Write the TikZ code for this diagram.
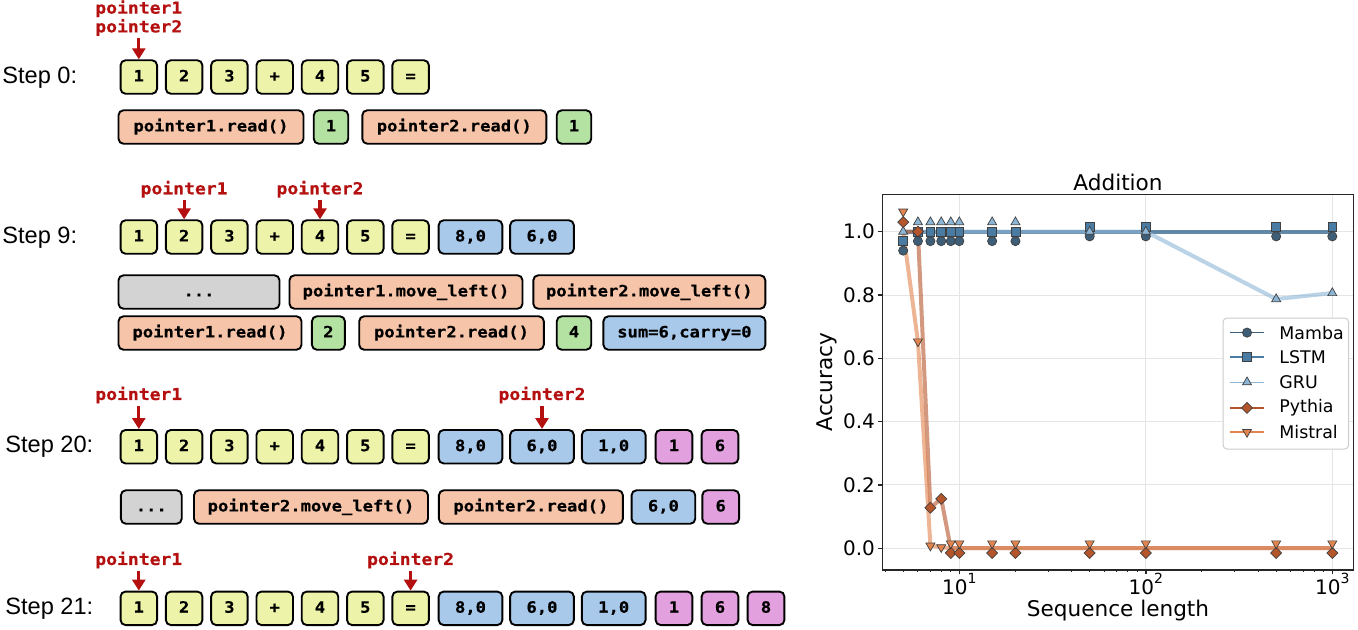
\documentclass[tikz,border=0pt]{standalone}
\usepackage{fontspec}
\setmainfont{Liberation Sans}
\newfontfamily\plotfont{DejaVu Sans}
\newfontfamily\codefont[FakeStretch=1.1, BoldFeatures={FakeBold=0.5}]{DejaVu Sans Mono}
\usepackage{xcolor}
\usepackage{tikz}
\usetikzlibrary{arrows.meta,plotmarks}

\definecolor{tokyellow}{HTML}{EDF4A9}
\definecolor{oppeach}{HTML}{F6C4A8}
\definecolor{tokgreen}{HTML}{B4E2A2}
\definecolor{tokblue}{HTML}{A8C9EA}
\definecolor{tokpink}{HTML}{E2A0DF}
\definecolor{tokgray}{HTML}{D3D3D3}
\definecolor{ptrred}{HTML}{B3100F}
\definecolor{mambac}{HTML}{3E5E78}
\definecolor{lstmc}{HTML}{4A7BA3}
\definecolor{gruc}{HTML}{8CB5D5}
\definecolor{pythiac}{HTML}{B5552B}
\definecolor{mistralc}{HTML}{E2844F}

\tikzset{
  tok/.style={draw, line width=0.95pt, rounded corners=2.5pt, inner sep=0pt,
    minimum height=16.75pt, text height=6pt, text depth=1.6pt,
    font=\codefont\bfseries\fontsize{7.8}{9}\selectfont},
  yel/.style={tok, fill=tokyellow, minimum width=18.25pt},
  blu/.style={tok, fill=tokblue, minimum width=31.85pt},
  pnk/.style={tok, fill=tokpink, minimum width=18.4pt},
  grn/.style={tok, fill=tokgreen, minimum width=17.25pt},
  opbox/.style={tok, fill=oppeach},
  gry/.style={tok, fill=tokgray},
  ptr/.style={text=ptrred, inner sep=1pt, align=center,
    font=\codefont\bfseries\fontsize{8.2}{7.6}\selectfont},
  ptrarrow/.style={draw=ptrred, line width=1.6pt, -{Triangle[length=5.5pt,width=6.5pt]}},
  steplabel/.style={anchor=west, inner sep=0pt, font=\fontsize{11.8}{13}\selectfont},
  plotlab/.style={inner sep=0pt, font=\plotfont\fontsize{10.8}{12}\selectfont},
  ticklab/.style={inner sep=0pt, font=\plotfont\fontsize{10}{12}\selectfont},
  legtext/.style={anchor=west, inner sep=0pt, font=\plotfont\fontsize{8.7}{10}\selectfont},
  gridline/.style={draw=black!10, line width=0.4pt},
  axisline/.style={draw=black!85, line width=0.7pt},
  dataline/.style={line width=2pt, draw opacity=0.6, line join=round},
  legline/.style={line width=0.7pt},
  legframe/.style={draw=black!20, fill=white, line width=0.5pt, rounded corners=2pt},
  mambamk/.style={mark=*, mark size=2.3pt, mark options={fill=mambac, draw=black!75, line width=0.35pt}},
  lstmmk/.style={mark=square*, mark size=2.2pt, mark options={fill=lstmc, draw=black!75, line width=0.35pt}},
  grumk/.style={mark=triangle*, mark size=2.6pt, mark options={fill=gruc, draw=black!75, line width=0.35pt}},
  pythiamk/.style={mark=square*, mark size=1.95pt, mark options={rotate=45, fill=pythiac, draw=black!75, line width=0.35pt}},
  mistralmk/.style={mark=triangle*, mark size=2.6pt, mark options={rotate=180, fill=mistralc, draw=black!75, line width=0.35pt}}
}

\begin{document}
\begin{tikzpicture}[x=0.5pt,y=-0.5pt]
\useasboundingbox (0,0) rectangle (1358,629);

\node[steplabel] (step0) at (2,78) {Step 0:};
\node[steplabel] (step9) at (2,238) {Step 9:};
\node[steplabel] (step20) at (5,447) {Step 20:};
\node[steplabel] (step21) at (5,608.3) {Step 21:};

\foreach \s/\y in {0/77,9/237,20/446.7,21/608.3}
  \foreach \t [count=\i from 0] in {1,2,3,+,4,5,=}
    \node[yel] (s\s-\i) at ({138.8+45.3*\i},\y) {\t};

% step 0
\node[ptr] (p0) at (138.8,18) {pointer1\\pointer2};
\draw[ptrarrow] (p0.south) -- (s0-0.north);
\node[opbox, minimum width=92.5pt] (rd0a) at (211,127) {pointer1.read()};
\node[grn] (v0a) at (331,127) {1};
\node[opbox, minimum width=92pt] (rd0b) at (454.3,127) {pointer2.read()};
\node[grn] (v0b) at (574,127) {1};

% step 9
\node[blu] (s9b1) at (470.5,237) {8,0};
\node[blu] (s9b2) at (542,237) {6,0};
\node[ptr] (p9a) at (184.1,189.3) {pointer1};
\node[ptr] (p9b) at (320,189.3) {pointer2};
\draw[ptrarrow] (p9a.south) -- (s9-1.north);
\draw[ptrarrow] (p9b.south) -- (s9-4.north);
\node[gry, minimum width=80.5pt] (dots9) at (199,292) {...};
\node[opbox, minimum width=116.5pt] (mv9a) at (406,292) {pointer1.move\_left()};
\node[opbox, minimum width=116pt] (mv9b) at (649.3,292) {pointer2.move\_left()};
\node[opbox, minimum width=91.5pt] (rd9a) at (210,333) {pointer1.read()};
\node[grn, minimum width=16.5pt] (v9a) at (328.4,333) {2};
\node[opbox, minimum width=92.3pt] (rd9b) at (451.5,333) {pointer2.read()};
\node[grn] (v9b) at (574,333) {4};
\node[blu, minimum width=81pt] (sum9) at (684.4,333) {sum=6,carry=0};

% step 20
\node[blu] (s20b1) at (470.5,446.7) {8,0};
\node[blu] (s20b2) at (542,446.7) {6,0};
\node[blu] (s20b3) at (613.7,446.7) {1,0};
\node[pnk] (s20c1) at (674,446.7) {1};
\node[pnk] (s20c2) at (720,446.7) {6};
\node[ptr] (p20a) at (138.8,395) {pointer1};
\node[ptr] (p20b) at (542,395) {pointer2};
\draw[ptrarrow] (p20a.south) -- (s20-0.north);
\draw[ptrarrow] (p20b.south) -- (s20b2.north);
\node[gry, minimum width=30.4pt] (dots20) at (151.3,507) {...};
\node[opbox, minimum width=117pt] (mv20) at (311,507) {pointer2.move\_left()};
\node[opbox, minimum width=92pt] (rd20) at (530.9,507) {pointer2.read()};
\node[blu] (v20a) at (663.4,507) {6,0};
\node[pnk] (v20b) at (720.7,507) {6};

% step 21
\node[blu] (s21b1) at (470.5,608.3) {8,0};
\node[blu] (s21b2) at (542,608.3) {6,0};
\node[blu] (s21b3) at (613.7,608.3) {1,0};
\node[pnk] (s21c1) at (674,608.3) {1};
\node[pnk] (s21c2) at (720,608.3) {6};
\node[pnk] (s21c3) at (766,608.3) {8};
\node[ptr] (p21a) at (138.8,560) {pointer1};
\node[ptr] (p21b) at (410.6,560) {pointer2};
\draw[ptrarrow] (p21a.south) -- (s21-0.north);
\draw[ptrarrow] (p21b.south) -- (s21-6.north);

% plot
\node[plotlab, anchor=base] (title) at (1118,190) {Addition};
\node[plotlab, rotate=90] (ylab) at (826.5,382) {Accuracy};
\node[plotlab] (xlab) at (1118,611) {Sequence length};

\begin{scope}[shift={(772.8,548.2)}, x=93.25pt, y=158.3pt]
\foreach \v in {0,0.2,0.4,0.6,0.8,1}
  \draw[gridline] (0.5871,\v) -- (3.1147,\v);
\foreach \d in {1,2,3}
  \draw[gridline] (\d,-0.0689) -- (\d,1.1178);

\draw[dataline, draw=mambac] (0.69897,1) -- (3,1);
\draw[dataline, draw=lstmc] (0.69897,1) -- (3,1);
\draw[dataline, draw=gruc] plot coordinates {(0.69897,1) (2,1) (2.69897,0.787) (3,0.806)};
\draw[dataline, draw=pythiac] plot coordinates {(0.69897,1) (0.77815,1) (0.84510,0.128) (0.90309,0.156) (0.95424,0) (3,0)};
\draw[dataline, draw=mistralc] plot coordinates {(0.69897,1) (0.77815,0.653) (0.84510,0.008) (0.90309,0.003) (0.95424,0) (3,0)};

\draw plot[only marks, mambamk] coordinates {(0.69897,0.94) (0.77815,0.97) (0.84510,0.97) (0.90309,0.97) (0.95424,0.97) (1,0.97) (1.17609,0.97) (1.30103,0.97) (1.69897,0.985) (2,0.985) (2.69897,0.985) (3,0.985)};
\draw plot[only marks, lstmmk] coordinates {(0.69897,0.97) (0.77815,1) (0.84510,1) (0.90309,1) (0.95424,1) (1,1) (1.17609,1) (1.30103,1) (1.69897,1.015) (2,1.015) (2.69897,1.015) (3,1.015)};
\draw plot[only marks, grumk] coordinates {(0.69897,1) (0.77815,1.03) (0.84510,1.03) (0.90309,1.03) (0.95424,1.03) (1,1.03) (1.17609,1.03) (1.30103,1.03) (1.69897,1) (2,1) (2.69897,0.787) (3,0.806)};
\draw plot[only marks, pythiamk] coordinates {(0.69897,1.03) (0.77815,1) (0.84510,0.128) (0.90309,0.156) (0.95424,-0.015) (1,-0.015) (1.17609,-0.015) (1.30103,-0.015) (1.69897,-0.015) (2,-0.015) (2.69897,-0.015) (3,-0.015)};
\draw plot[only marks, mistralmk] coordinates {(0.69897,1.063) (0.77815,0.653) (0.84510,0.008) (0.90309,0.003) (0.95424,0.015) (1,0.015) (1.17609,0.015) (1.30103,0.015) (1.69897,0.015) (2,0.015) (2.69897,0.015) (3,0.015)};

\draw[axisline] (0.5871,-0.0689) rectangle (3.1147,1.1178);
\foreach \v [count=\k] in {0.0,0.2,0.4,0.6,0.8,1.0} {
  \draw[axisline] (0.5871,\v) -- ++(-2pt,0pt);
  \node[ticklab, anchor=east, xshift=-3.5pt] (ytick\k) at (0.5871,\v) {\v};
}
\foreach \d in {1,2,3} {
  \draw[axisline] (\d,-0.0689) -- ++(0pt,-2pt);
  \node[ticklab, anchor=north, yshift=-1.4pt] (xtick\d) at (\d,-0.0689) {10\raisebox{5.5pt}{\fontsize{7}{7}\selectfont\d}};
}
\foreach \d in {0,1,2}
  \foreach \m in {2,...,9} {
    \pgfmathsetmacro\lx{\d+log10(\m)}
    \ifdim\lx pt>0.59pt \draw[axisline, line width=0.5pt] (\lx,-0.0689) -- ++(0pt,-1.2pt); \fi
  }
\end{scope}

% legend
\draw[legframe] (1223,318) rectangle (1348.6,449);
\draw[legline, draw=mambac] (1230,332.6) -- (1264,332.6);
\draw plot[only marks, mambamk] coordinates {(1247,332.6)};
\node[legtext] (legmamba) at (1279,332.6) {Mamba};
\draw[legline, draw=lstmc] (1230,357) -- (1264,357);
\draw plot[only marks, lstmmk] coordinates {(1247,357)};
\node[legtext] (leglstm) at (1279,357) {LSTM};
\draw[legline, draw=gruc] (1230,382.2) -- (1264,382.2);
\draw plot[only marks, grumk] coordinates {(1247,382.2)};
\node[legtext] (leggru) at (1279,382.2) {GRU};
\draw[legline, draw=pythiac] (1230,407.8) -- (1264,407.8);
\draw plot[only marks, pythiamk] coordinates {(1247,407.8)};
\node[legtext] (legpythia) at (1279,407.8) {Pythia};
\draw[legline, draw=mistralc] (1230,432) -- (1264,432);
\draw plot[only marks, mistralmk] coordinates {(1247,432)};
\node[legtext] (legmistral) at (1279,432) {Mistral};
\end{tikzpicture}
\end{document}
